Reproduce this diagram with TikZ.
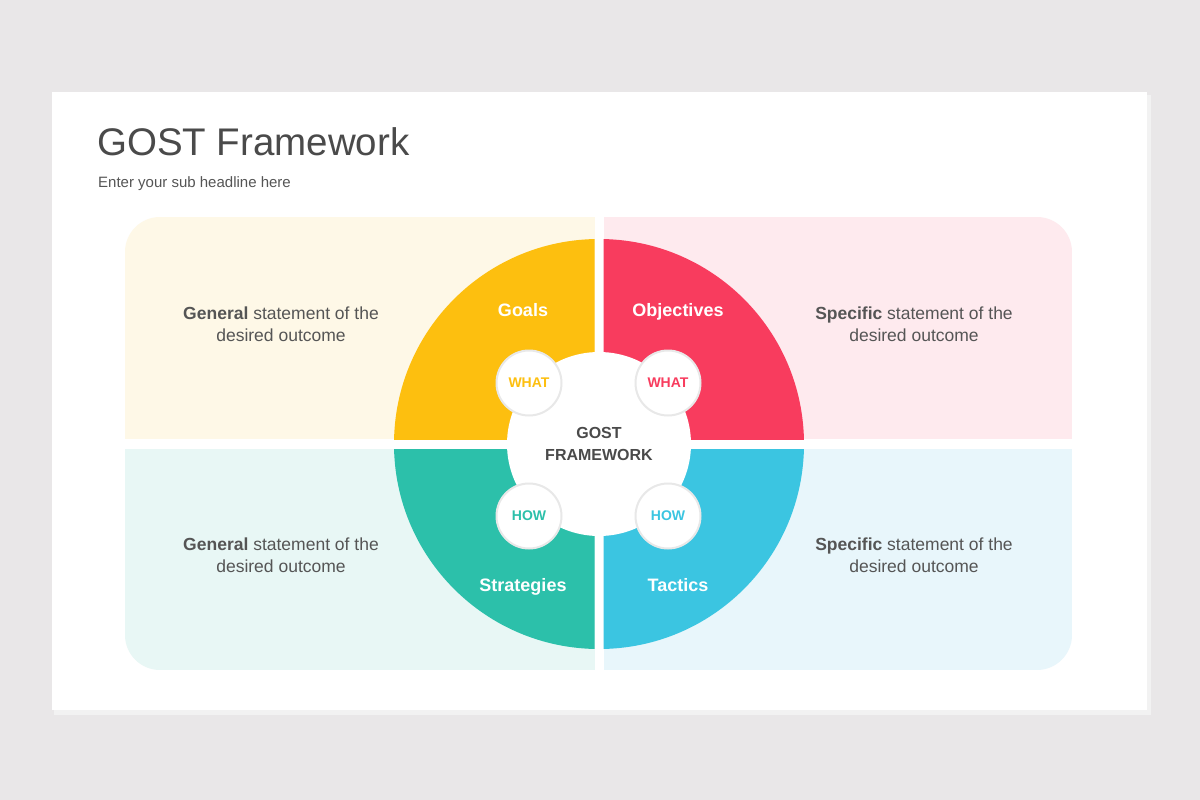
\documentclass[tikz,border=0pt]{standalone}
\usepackage{fontspec}
\setmainfont{Liberation Sans}
\usetikzlibrary{positioning}
\definecolor{bggray}{HTML}{E9E7E8}
\definecolor{textgray}{HTML}{555555}
\definecolor{titlegray}{HTML}{4A4A4A}
\definecolor{goalyellow}{HTML}{FDBF0F}
\definecolor{objred}{HTML}{F83C5E}
\definecolor{strteal}{HTML}{2CC0AA}
\definecolor{tacblue}{HTML}{3BC5E1}
\definecolor{paleyellow}{HTML}{FEF8E7}
\definecolor{palered}{HTML}{FEEAEE}
\definecolor{paleteal}{HTML}{E8F7F5}
\definecolor{paleblue}{HTML}{E8F6FB}

\begin{document}
\begin{tikzpicture}[x=1pt,y=-1pt,
    quadtext/.style={text=textgray,align=center,inner sep=0pt,font=\fontsize{17.5}{22}\selectfont},
    wedgelabel/.style={text=white,inner sep=0pt,anchor=base,font=\bfseries\fontsize{18}{20}\selectfont},
    badge/.style={circle,fill=white,draw=black!9,line width=2pt,minimum size=65pt,inner sep=0pt,font=\bfseries\fontsize{14}{16}\selectfont}]
    \useasboundingbox (0,0) rectangle (1200,800);
    \fill[bggray] (0,0) rectangle (1200,800);
    \fill[black!5] (54,95) rectangle (1151,715);
    \fill[white] (52,92) rectangle (1147,710);
    \node[anchor=base west,inner sep=0pt,text=titlegray,font=\fontsize{38.5}{46}\selectfont] (title) at (97,155) {GOST Framework};
    \node[anchor=base west,inner sep=0pt,text=textgray,font=\fontsize{15}{18}\selectfont] (subtitle) at (98,187) {Enter your sub headline here};
    \begin{scope}
        \clip[rounded corners=35] (125,217) rectangle (1072,670);
        \foreach \xa/\ya/\xb/\yb/\pale/\strong in {125/217/594.5/439/paleyellow/goalyellow, 603.5/217/1072/439/palered/objred, 125/449/594.5/670/paleteal/strteal, 603.5/449/1072/670/paleblue/tacblue}{
            \fill[\pale] (\xa,\ya) rectangle (\xb,\yb);
            \begin{scope}
                \clip (\xa,\ya) rectangle (\xb,\yb);
                \fill[\strong] (599,444) circle (205);
            \end{scope}
        }
    \end{scope}
    \fill[white] (599,444) circle (92);
    \node[align=center,inner sep=0pt,text=titlegray,font=\bfseries\fontsize{16}{22}\selectfont] (core) at (599,444) {GOST\\FRAMEWORK};
    \node[badge,text=goalyellow] (whatL) at (529,383) {WHAT};
    \node[badge,text=objred] (whatR) at (668,383) {WHAT};
    \node[badge,text=strteal] (howL) at (529,516) {HOW};
    \node[badge,text=tacblue] (howR) at (668,516) {HOW};
    \node[wedgelabel] (goals) at (523,316) {Goals};
    \node[wedgelabel] (objectives) at (678,316) {Objectives};
    \node[wedgelabel] (strategies) at (523,591) {Strategies};
    \node[wedgelabel] (tactics) at (678,591) {Tactics};
    \node[quadtext] (goaltext) at (281,324) {\textbf{General} statement of the\\desired outcome};
    \node[quadtext] (objtext) at (914,324) {\textbf{Specific} statement of the\\desired outcome};
    \node[quadtext] (strtext) at (281,555) {\textbf{General} statement of the\\desired outcome};
    \node[quadtext] (tactext) at (914,555) {\textbf{Specific} statement of the\\desired outcome};
\end{tikzpicture}
\end{document}
